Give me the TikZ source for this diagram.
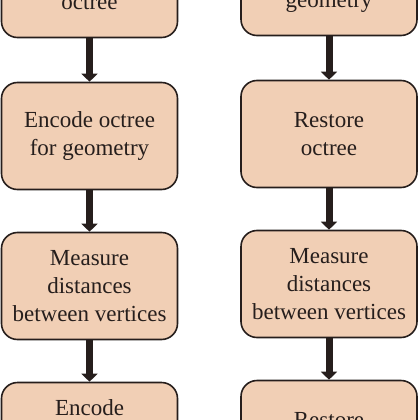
\documentclass[tikz,border=0pt]{standalone}
\usepackage{fontspec}
\setmainfont{Liberation Serif}
\usetikzlibrary{arrows.meta}
\definecolor{boxfill}{RGB}{241,207,181}
\definecolor{ink}{RGB}{38,30,28}

\begin{document}
\begin{tikzpicture}[x=1pt,y=1pt,
box/.style={rectangle,rounded corners=16pt,draw=ink,line width=1.6pt,fill=boxfill,
  minimum width=176pt,minimum height=107pt,inner sep=0pt,align=center,text=ink,
  font=\fontsize{23}{28}\selectfont},
arr/.style={draw=ink,line width=7pt,-{Triangle[length=8pt,width=16pt]}}]
\useasboundingbox (0,0) rectangle (420,-420);
%left column
\path (89.5,16) node(a1)[box]{\phantom{Build}\\[8pt]octree}
(89.5,-136) node(a2)[box]{Encode octree\\for geometry}
(89.5,-286) node(a3)[box]{Measure\\distances\\between vertices}
(89.5,-436) node(a4)[box]{Encode\\\phantom{x}\\\phantom{x}};
%right column
\path (329,18) node(b1)[box]{\phantom{Restore}\\[12pt]geometry}
(329,-134) node(b2)[box]{Restore\\octree}
(329,-284) node(b3)[box]{Measure\\distances\\between vertices}
(329,-434) node(b4)[box]{Restore\\\phantom{x}};
\draw[arr] (a1) -- (a2);
\draw[arr] (a2) -- (a3);
\draw[arr] (a3) -- (a4);
\draw[arr] (b1) -- (b2);
\draw[arr] (b2) -- (b3);
\draw[arr] (b3) -- (b4);
\end{tikzpicture}
\end{document}
